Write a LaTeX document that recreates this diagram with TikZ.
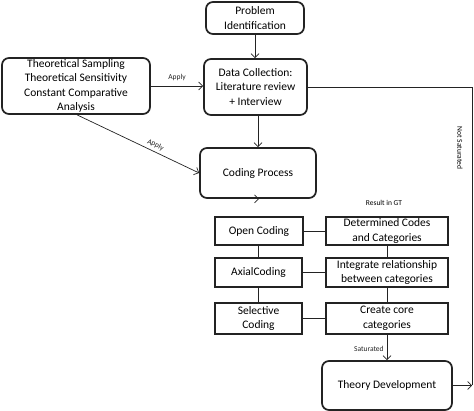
\documentclass[tikz,border=0pt]{standalone}
\usepackage{fontspec}
\setmainfont{Carlito}
\usepackage{tikz}
\usetikzlibrary{arrows.meta, positioning, calc}
\definecolor{mydark}{RGB}{35,35,35}
\tikzset{
  roundbox/.style={rectangle, draw=mydark, rounded corners=7pt, line width=1.7pt,
    align=center, inner sep=0pt, font=\fontsize{11.5}{14.5}\selectfont},
  sqbox/.style={rectangle, draw=mydark, line width=1.3pt,
    align=center, inner sep=0pt, font=\fontsize{11.5}{14.5}\selectfont},
  arrow/.style={-{Straight Barb[length=4pt,width=8pt]}, line width=0.7pt, color=mydark},
  line/.style={line width=0.7pt, color=mydark},
  tag/.style={font=\fontsize{7.5}{9}\selectfont, inner sep=1pt}
}

\begin{document}
\begin{tikzpicture}[x=1pt,y=1pt]
  \useasboundingbox (0,0) rectangle (474,-411);
  % ── upper part ───────────────────────────────────────────────
  \node[roundbox, minimum width=98, minimum height=32] (prob) at (255,-18) {Problem\\Identification};
  \node[roundbox, minimum width=103, minimum height=56] (data) at (255.5,-87) {Data Collection:\\Literature review\\+ Interview};
  \node[roundbox, minimum width=148, minimum height=56] (theo) at (76,-86) {Theoretical Sampling\\Theoretical Sensitivity\\Constant Comparative\\Analysis};
  \node[roundbox, minimum width=116, minimum height=50] (coding) at (258,-173) {Coding Process};
  % ── coding steps and results ─────────────────────────────────
  \node[sqbox, minimum width=88, minimum height=28] (open) at (259,-231) {Open Coding};
  \node[sqbox, minimum width=122, minimum height=28] (det) at (387,-231) {Determined Codes\\and Categories};
  \node[sqbox, minimum width=87, minimum height=29] (axial) at (258.5,-272.5) {AxialCoding};
  \node[sqbox, minimum width=122, minimum height=29] (integ) at (387,-272.5) {Integrate relationship\\between categories};
  \node[sqbox, minimum width=87, minimum height=31] (select) at (258.5,-318.5) {Selective\\Coding};
  \node[sqbox, minimum width=122, minimum height=31] (core) at (387,-318.5) {Create core\\categories};
  \node[roundbox, minimum width=130, minimum height=49] (tdev) at (387,-385.5) {Theory Development};
  \node[tag] (result) at (384,-203) {Result in GT};
  % ── connectors ───────────────────────────────────────────────
  \draw[arrow] (prob.south) -- (prob.south |- data.north);
  \draw[arrow] (theo.east) -- node[tag, above=4pt] {Apply} (theo.east -| data.west);
  \draw[arrow] ($(theo.south)+(1,0)$) -- node[tag, sloped, above=2pt, pos=0.62] {Apply} (coding.west);
  \draw[arrow] (data.south -| coding.north) -- (coding.north);
  \draw[arrow] (coding.south) -- (coding.south -| open.north);
  \draw[line] (open.south -| axial.north) -- (axial.north);
  \draw[line] (axial.south) -- (select.north);
  \draw[line] (open.east) -- (det.west);
  \draw[line] (axial.east) -- (integ.west);
  \draw[line] (select.east) -- (core.west);
  \draw[line] (det.south) -- (integ.north);
  \draw[line] (integ.south) -- (core.north);
  \draw[arrow] (core.south) -- node[tag, left=2pt, pos=0.55] {Saturated} (tdev.north);
  % not saturated loop
  \coordinate (ret) at (472,-87);
  \draw[line] (data.east) -- (ret) -- (ret |- tdev.east);
  \draw[arrow] (tdev.east) -- (ret |- tdev.east);
  \node[tag, rotate=-90] (notsat) at (460,-148) {Not Saturated};
\end{tikzpicture}
\end{document}
